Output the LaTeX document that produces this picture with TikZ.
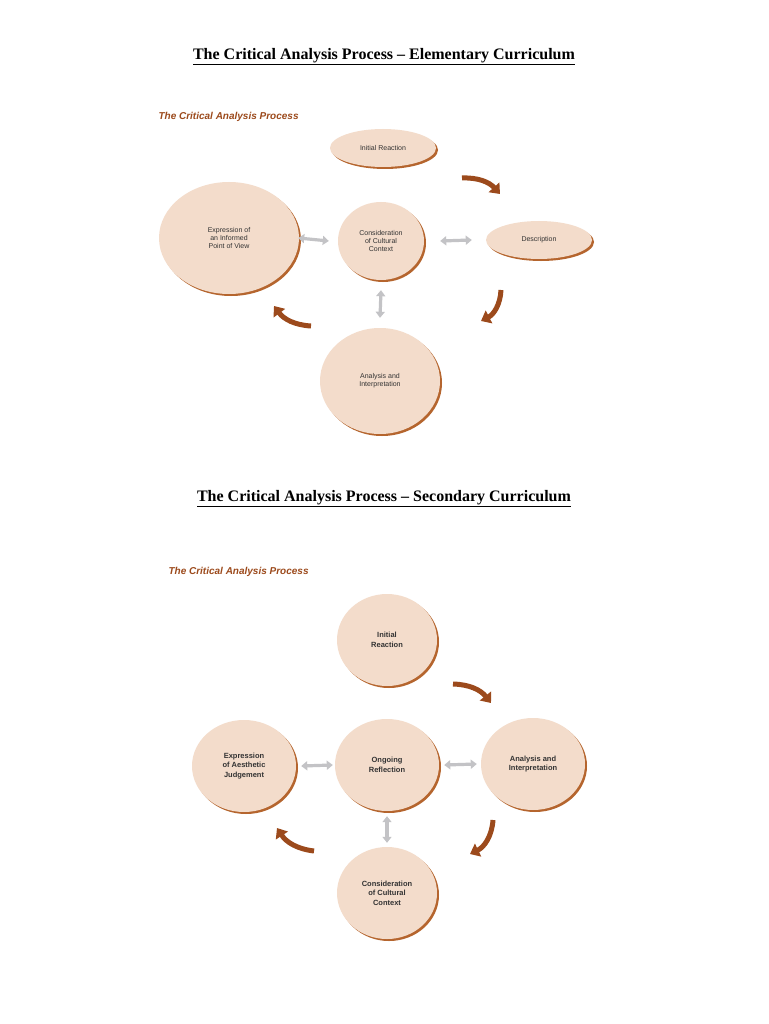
\documentclass[tikz,border=0pt]{standalone}
\usepackage{fontspec}
\setmainfont{Liberation Serif}
\setsansfont{Liberation Sans}
\usetikzlibrary{arrows.meta,shapes.geometric,shadows}
\definecolor{peach}{HTML}{F3DCCB}
\definecolor{rust}{HTML}{9C4A1C}
\definecolor{shad}{HTML}{B5652E}
\definecolor{greyarr}{HTML}{C3C3C6}
\tikzset{
 bub/.style={ellipse, fill=peach, minimum width=#1, font=\sffamily\fontsize{7}{8}\selectfont, align=center, text=black!80,
   drop shadow={shadow xshift=2pt, shadow yshift=-2pt, fill=shad, opacity=1}},
 bubB/.style={bub=#1, font=\sffamily\bfseries\fontsize{7.5}{9.5}\selectfont},
 garr/.style={greyarr, line width=3.2pt, {Triangle[width=9pt,length=6pt]}-{Triangle[width=9pt,length=6pt]}},
 barr/.style={rust, line width=5pt, -{Triangle[width=14pt,length=9pt]}},
 ttl/.style={font=\bfseries\fontsize{16}{18}\selectfont},
 sub/.style={font=\sffamily\bfseries\itshape\fontsize{10}{12}\selectfont, text=rust, anchor=west},
}
\begin{document}
\begin{tikzpicture}[x=1pt,y=-1pt]
\useasboundingbox[fill=white] (0,0) rectangle (768,1024);
\node[ttl] (t1) at (384,57) {\underline{The Critical Analysis Process – Elementary Curriculum}};
\node[ttl] (t2) at (384,499) {\underline{The Critical Analysis Process – Secondary Curriculum}};
\node[sub] (s1) at (155,117) {The Critical Analysis Process};
\node[sub] (s2) at (165,572) {The Critical Analysis Process};
% top
\node[bub=106pt, minimum height=38pt] (ir1) at (383,148) {Initial Reaction};
\node[bub=140pt, minimum height=112pt] (ex1) at (229,238) {Expression of\\an Informed\\Point of View};
\node[bub=86pt, minimum height=78pt] (cc1) at (381,241) {Consideration\\of Cultural\\Context};
\node[bub=106pt, minimum height=38pt] (de1) at (539,240) {Description};
\node[bub=120pt, minimum height=106pt] (an1) at (380,381) {Analysis and\\Interpretation};
\draw[garr] ([xshift=-1pt]ex1.east) -- ([xshift=-9pt]cc1.west);
\draw[garr] ([xshift=16pt]cc1.east) -- ([xshift=-14pt]de1.west);
\draw[garr] ([yshift=-10pt]cc1.south) -- ([yshift=10pt]an1.north);
\draw[barr] (462,178) to[bend left=25] (500,194);
\draw[barr] (501,290) to[bend left=30] (481,321);
\draw[barr] (311,326) to[bend left=25] (274,306);
% bottom
\node[bubB=100pt, minimum height=92pt] (ir2) at (387,640) {Initial\\Reaction};
\node[bubB=104pt, minimum height=92pt] (ex2) at (244,766) {Expression\\of Aesthetic\\Judgement};
\node[bubB=104pt, minimum height=92pt] (og2) at (387,765) {Ongoing\\Reflection};
\node[bubB=104pt, minimum height=92pt] (an2) at (533,764) {Analysis and\\Interpretation};
\node[bubB=100pt, minimum height=92pt] (cc2) at (387,893) {Consideration\\of Cultural\\Context};
\draw[garr] ([xshift=5pt]ex2.east) -- ([xshift=-2pt]og2.west);
\draw[garr] ([xshift=5pt]og2.east) -- ([xshift=-4pt]an2.west);
\draw[garr] ([yshift=-5pt]og2.south) -- ([yshift=4pt]cc2.north);
\draw[barr] (453,684) to[bend left=25] (491,703);
\draw[barr] (493,820) to[bend left=30] (470,854);
\draw[barr] (314,851) to[bend left=25] (277,828);
\end{tikzpicture}
\end{document}
